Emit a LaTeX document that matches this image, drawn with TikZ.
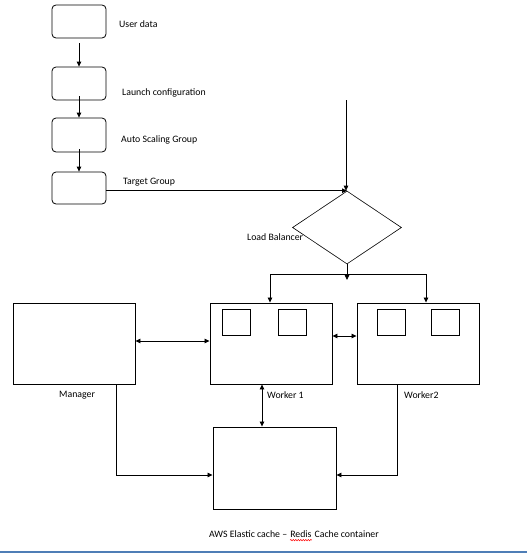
\documentclass[tikz,border=0pt]{standalone}
\usepackage{fontspec}
\setmainfont{Carlito}
\usetikzlibrary{arrows.meta,shapes.geometric,decorations.pathmorphing}
\begin{document}
\begin{tikzpicture}[x=1pt,y=-1pt,
  every node/.style={font=\fontsize{9.8}{11}\selectfont},
  rbox/.style={draw,rounded corners=4pt,line width=0.8pt,minimum width=54pt,inner sep=0pt},
  sbox/.style={draw,line width=0.9pt,minimum width=122pt,minimum height=81pt,inner sep=0pt},
  sq/.style={draw,line width=0.8pt,minimum width=28pt,minimum height=26pt,inner sep=0pt},
  lbl/.style={anchor=west,inner sep=0pt},
  arr/.style={-{Triangle[length=5pt,width=4.5pt]},line width=0.8pt},
  darr/.style={{Triangle[length=5pt,width=4.5pt]}-{Triangle[length=5pt,width=4.5pt]},line width=0.8pt}]
\useasboundingbox (0,0) rectangle (527,554);
\fill[white] (0,0) rectangle (527,554);
% top chain
\node[rbox,minimum height=33pt] (ud) at (79,21.5) {};
\node[rbox,minimum height=33pt] (lc) at (79,83.5) {};
\node[rbox,minimum height=34pt] (asg) at (79,135) {};
\node[rbox,minimum height=32pt] (tg) at (79,188) {};
\node[lbl] (tud) at (119,24) {User data};
\node[lbl] (tlc) at (122,93) {Launch configuration};
\node[lbl] (tasg) at (121,140) {Auto Scaling Group};
\node[lbl] (ttg) at (123,182) {Target Group};
\draw[arr] ([yshift=-5pt]ud.south) -- (lc.north);
\draw[arr] ([yshift=4pt]lc.south) -- (asg.north);
\draw[arr] ([yshift=3pt]asg.south) -- (tg.north);
% load balancer
\node[draw,diamond,minimum width=109pt,minimum height=73pt,inner sep=0pt,line width=0.6pt] (lb) at (347,227.5) {};
\node[lbl] (tlb) at (247,237) {Load Balancer};
\coordinate (in) at (346,100);
\draw[arr] (in) -- (in |- lb.north);
\draw[arr] (tg.east |- lb.north) -- (lb.north);
% workers
\node[sbox] (mgr) at (74,343.5) {};
\node[sbox] (w1) at (271,343.5) {};
\node[sbox] (w2) at (418,343.5) {};
\node[sbox,minimum height=82pt,minimum width=123pt] (cache) at (274.5,468) {};
\node[sq] (s11) at (236,322) {};
\node[sq] (s12) at (292.5,322) {};
\node[sq] (s21) at (391.5,322) {};
\node[sq] (s22) at (445.5,322) {};
\node[lbl] (tmgr) at (59,395) {Manager};
\node[lbl] (tw1) at (267,395) {Worker 1};
\node[lbl] (tw2) at (404,395) {Worker2};
% distribution from load balancer
\coordinate (split) at (347,274);
\coordinate (bl) at (270,274);
\coordinate (br) at (426,274);
\draw[line width=0.8pt] (bl) -- (br);
\draw[arr] (lb.south) -- ([yshift=-6pt]split);
\draw[arr] (bl) -- (bl |- w1.north);
\draw[arr] (br) -- (br |- w2.north);
% links
\draw[darr] ([yshift=2.5pt]mgr.east) -- ([yshift=2.5pt]w1.west);
\draw[darr] ([yshift=7.5pt]w1.east) -- ([yshift=7.5pt]w2.west);
\draw[darr] ([xshift=-9pt]w1.south) -- ([xshift=-9pt]w1.south |- cache.north);
\draw[arr] ([xshift=42pt]mgr.south) |- ([yshift=-7pt]cache.west);
\draw[arr] ([xshift=-21pt]w2.south) |- ([yshift=-7pt]cache.east);
% caption
\node[lbl] (c1) at (209,534) {AWS Elastic cache –};
\node[lbl] (c2) at ([xshift=2.7pt]c1.east) {Redis};
\node[lbl] (c3) at ([xshift=2.7pt]c2.east) {Cache container};
\draw[red,line width=0.5pt,decorate,decoration={snake,amplitude=0.7pt,segment length=2.5pt}] ([yshift=-2.5pt]c2.south west) -- ([yshift=-2.5pt]c2.south east);
% bottom rule
\coordinate (rl) at (0,552);
\coordinate (rr) at (527,552);
\draw[color={rgb,255:red,79;green,126;blue,182},line width=1.5pt] (rl) -- (rr);
\end{tikzpicture}
\end{document}
